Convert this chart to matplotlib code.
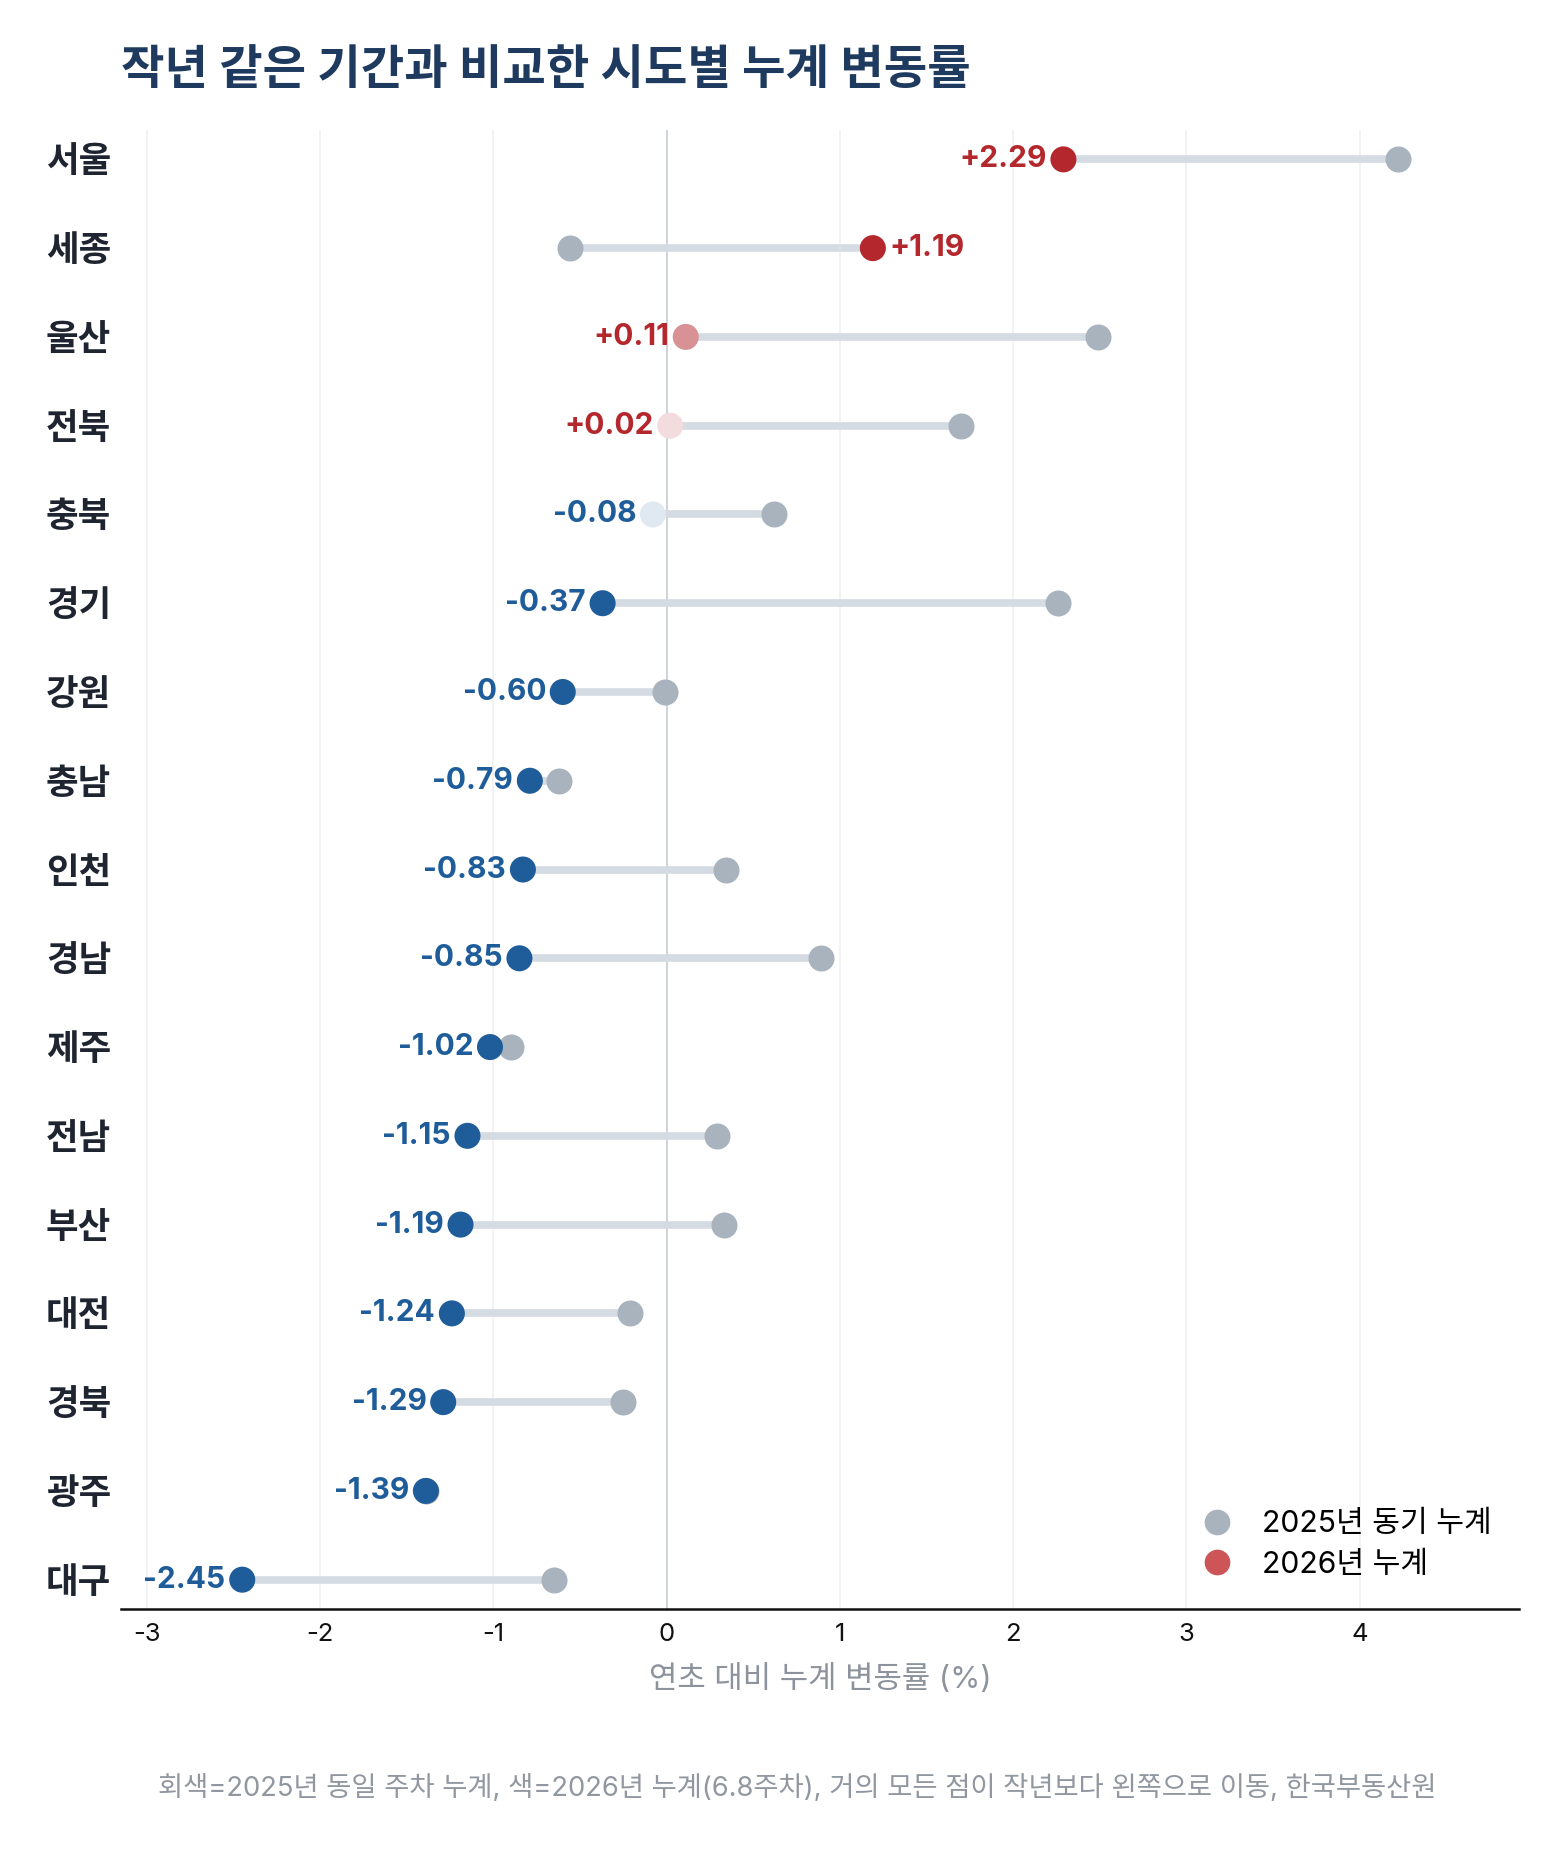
import numpy as np
import matplotlib
matplotlib.use('Agg')
import matplotlib.pyplot as plt
from matplotlib.colors import to_rgb
from matplotlib.lines import Line2D

plt.rcParams['font.family'] = ['Inter', 'Noto Sans CJK KR', 'DejaVu Sans']
plt.rcParams['axes.unicode_minus'] = False

# ── 데이터 ──
regions = ['서울', '세종', '울산', '전북', '충북', '경기', '강원', '충남', '인천',
           '경남', '제주', '전남', '부산', '대전', '경북', '광주', '대구']
cum_2026 = [2.29, 1.19, 0.11, 0.02, -0.08, -0.37, -0.60, -0.79, -0.83,
            -0.85, -1.02, -1.15, -1.19, -1.24, -1.29, -1.39, -2.45]
cum_2025 = [4.22, -0.56, 2.49, 1.70, 0.62, 2.26, -0.01, -0.62, 0.34,
            0.89, -0.90, 0.29, 0.33, -0.21, -0.25, -1.39, -0.65]
xticks = [-3, -2, -1, 0, 1, 2, 3, 4]

RED = '#b3272d'
BLUE = '#1f5c9a'
GRAY_DOT = '#a9b3be'
LINE = '#d5dbe3'


def dot_color(v):
    # 0에 가까울수록 옅게
    if v >= 0:
        t, base = min(1.0, (v / 0.3) ** 0.67), RED
    else:
        t, base = min(1.0, (-v / 0.3) ** 1.5), BLUE
    b = np.array(to_rgb(base))
    return tuple(1 - t + t * b)


y = np.arange(len(regions))
x25 = np.array(cum_2025)
x26 = np.array(cum_2026)

fig = plt.figure(figsize=(15.67, 18.53), dpi=100, facecolor='white')
ax = fig.add_axes([0.0772, 0.1317, 0.9694 - 0.0772, 0.9298 - 0.1317])

for xt in xticks:
    ax.axvline(xt, color='#c8d0d9' if xt == 0 else '#eef0f3',
               lw=1.3 if xt == 0 else 1.2, zorder=0)

ax.hlines(y, np.minimum(x25, x26), np.maximum(x25, x26), color=LINE, lw=5.5,
          zorder=1)
ax.scatter(x25, y, s=26 ** 2 * 0.52, color=GRAY_DOT, zorder=2, linewidths=0)
ax.scatter(x26, y, s=26 ** 2 * 0.52, color=[dot_color(v) for v in x26],
           zorder=3, linewidths=0)

for xi, yi, prev in zip(x26, y, x25):
    txt = f'{xi:+.2f}'
    col = RED if xi >= 0 else BLUE
    if xi > prev:
        ax.annotate(txt, (xi, yi), xytext=(12, 0), textcoords='offset points',
                    ha='left', va='center', fontsize=21.5, fontweight='bold',
                    color=col, zorder=4)
    else:
        ax.annotate(txt, (xi, yi), xytext=(-12, 0), textcoords='offset points',
                    ha='right', va='center', fontsize=21.5, fontweight='bold',
                    color=col, zorder=4)

ax.set_xlim(-3.15, 4.92)
ax.set_ylim(len(regions) - 1 + 0.33, -0.33)
ax.set_xticks(xticks)
ax.set_xticklabels([str(t) for t in xticks])
ax.set_yticks(y)
ax.set_yticklabels(regions, fontsize=25.5, fontweight='bold', color='#1f2530')
ax.tick_params(axis='x', length=0, pad=10, labelsize=18.5, labelcolor='#111111')
ax.tick_params(axis='y', length=0, pad=7)

for s in ['top', 'right', 'left']:
    ax.spines[s].set_visible(False)
ax.spines['bottom'].set_color('#111111')
ax.spines['bottom'].set_linewidth(1.8)

ax.set_xlabel('연초 대비 누계 변동률 (%)', fontsize=22.2, color='#8c939c',
              labelpad=13)

handles = [
    Line2D([], [], marker='o', ls='none', markersize=18.5, color=GRAY_DOT,
           markeredgewidth=0, label='2025년 동기 누계'),
    Line2D([], [], marker='o', ls='none', markersize=18.5, color='#cd5558',
           markeredgewidth=0, label='2026년 누계'),
]
ax.legend(handles=handles, loc='lower right', bbox_to_anchor=(1.0, 0.002),
          frameon=False, fontsize=21.7, handlelength=1.0, handletextpad=1.0,
          labelspacing=0.42)

fig.text(0.0772, 1 - 72 / 1853, '작년 같은 기간과 비교한 시도별 누계 변동률',
         fontsize=34, fontweight='bold', color='#1e3a5f', ha='left',
         va='center')
fig.text(0.509, 1 - 1788 / 1853,
         '회색=2025년 동일 주차 누계, 색=2026년 누계(6.8주차), 거의 모든 점이 작년보다 왼쪽으로 이동, 한국부동산원',
         fontsize=19.7, color='#9097a0', ha='center', va='center')

fig.savefig('out.png', dpi=100, facecolor='white')
